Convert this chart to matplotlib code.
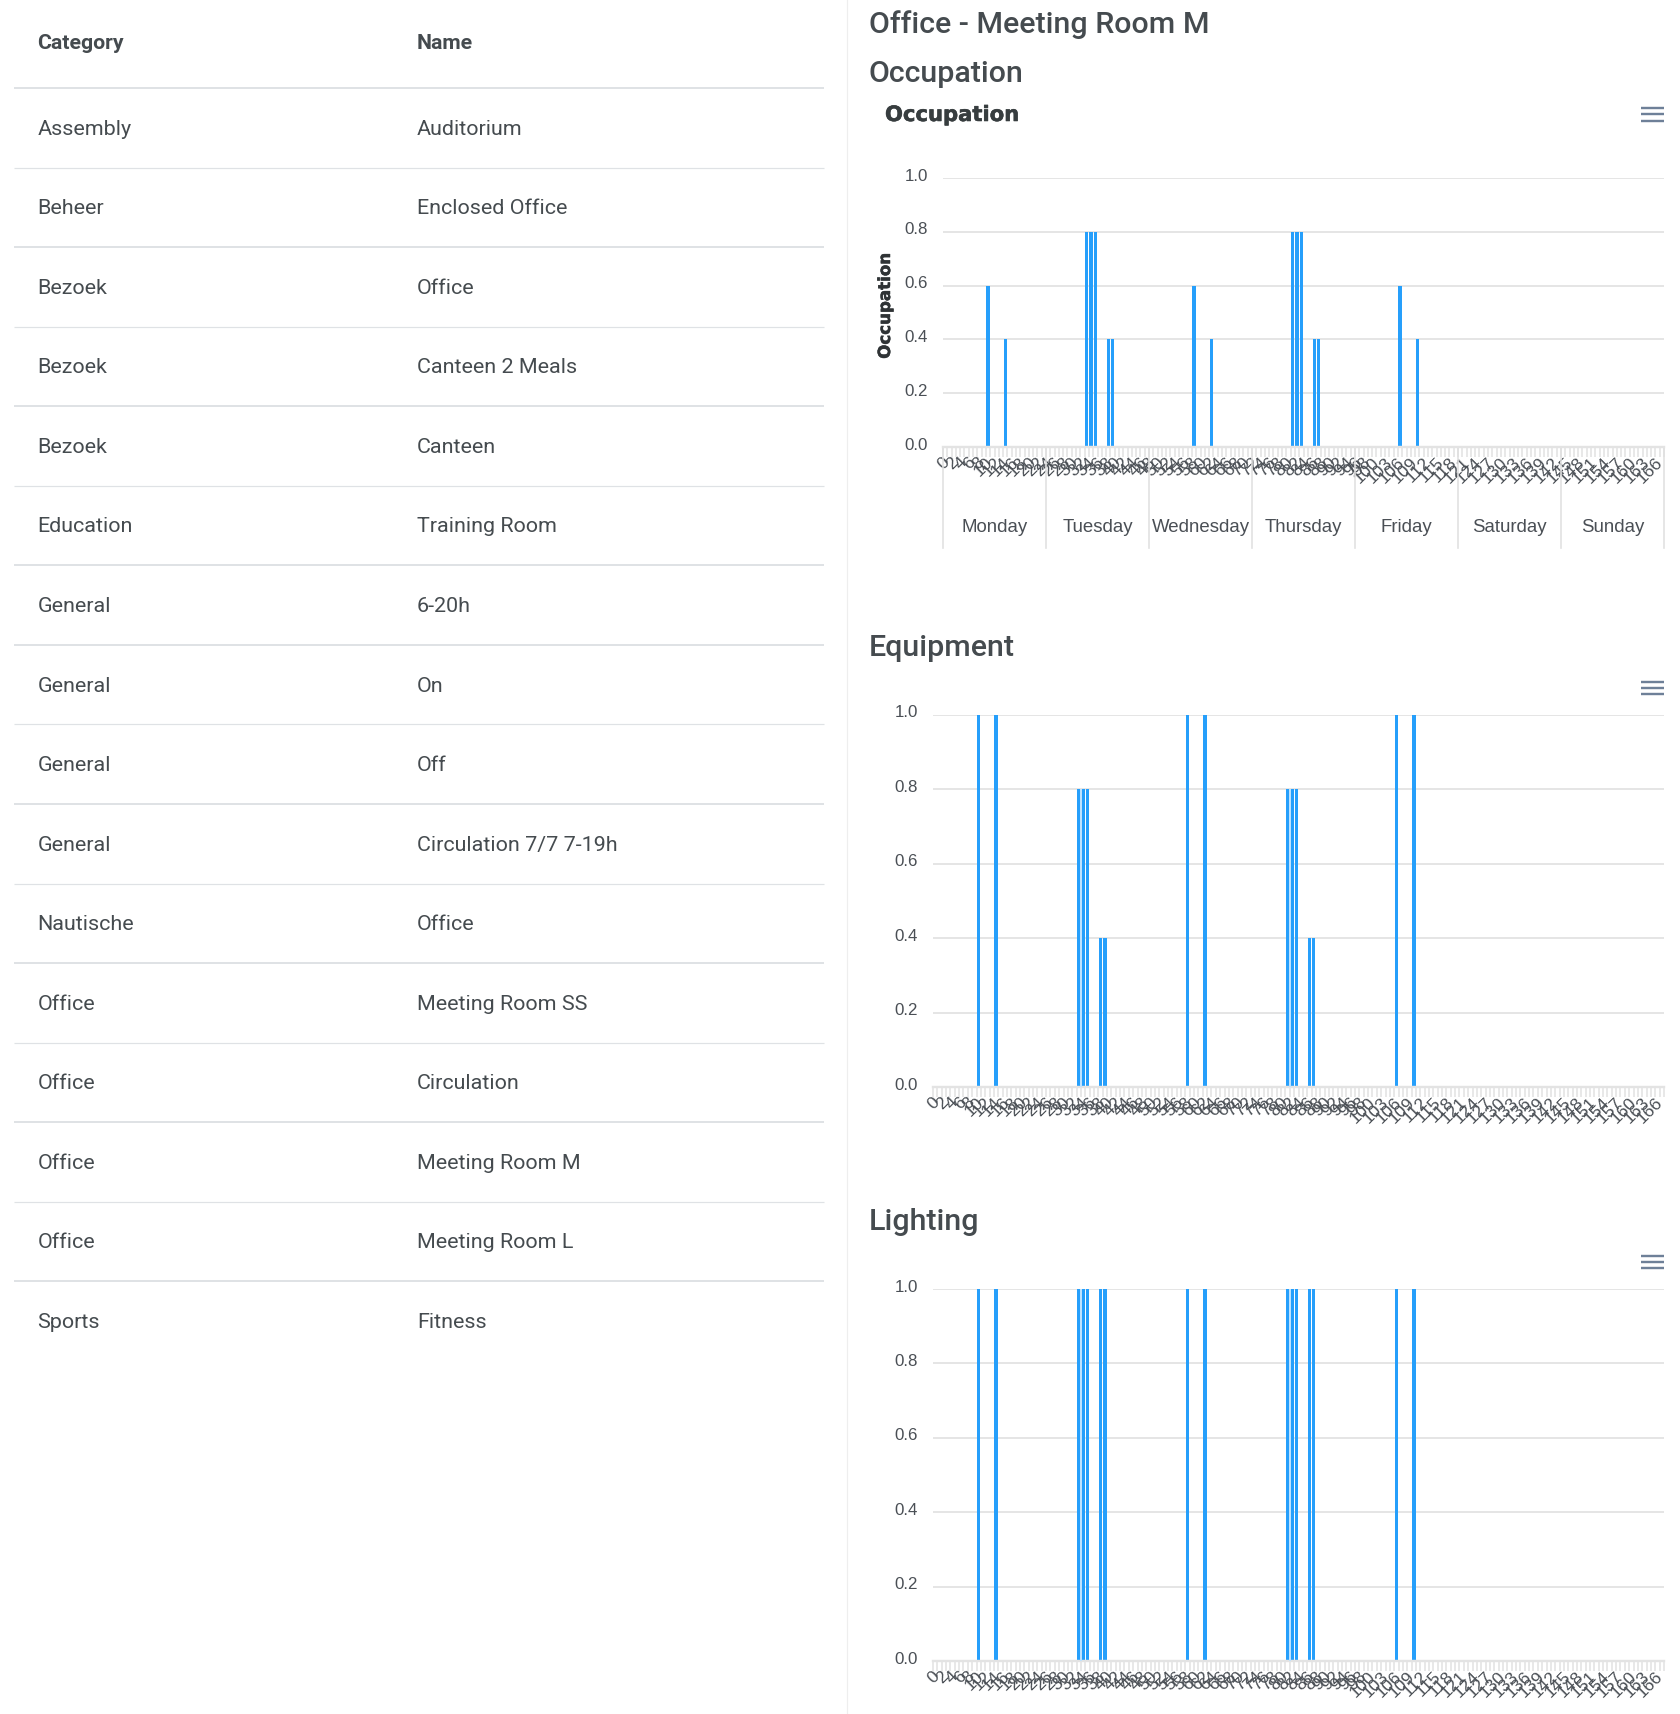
import matplotlib
matplotlib.use("Agg")
import matplotlib.pyplot as plt
import matplotlib.patheffects as pe
from matplotlib.transforms import ScaledTranslation

W, H, DPI = 1680, 1714, 100
PT = 72 / DPI

table_headers = ["Category", "Name"]
table_categories = ["Assembly", "Beheer", "Bezoek", "Bezoek", "Bezoek", "Education", "General", "General",
                    "General", "General", "Nautische", "Office", "Office", "Office", "Office", "Sports"]
table_names = ["Auditorium", "Enclosed Office", "Office", "Canteen 2 Meals", "Canteen", "Training Room",
               "6-20h", "On", "Off", "Circulation 7/7 7-19h", "Office", "Meeting Room SS", "Circulation",
               "Meeting Room M", "Meeting Room L", "Fitness"]

page_title = "Office - Meeting Room M"
days = ["Monday", "Tuesday", "Wednesday", "Thursday", "Friday", "Saturday", "Sunday"]

hours = [10, 14, 33, 34, 35, 38, 39, 58, 62, 81, 82, 83, 86, 87, 106, 110]
occupation = [0.6, 0.4, 0.8, 0.8, 0.8, 0.4, 0.4, 0.6, 0.4, 0.8, 0.8, 0.8, 0.4, 0.4, 0.6, 0.4]
equipment = [1.0, 1.0, 0.8, 0.8, 0.8, 0.4, 0.4, 1.0, 1.0, 0.8, 0.8, 0.8, 0.4, 0.4, 1.0, 1.0]
lighting = [1.0] * 16

y_ticks = [0.0, 0.2, 0.4, 0.6, 0.8, 1.0]
x_labels = list(range(0, 100, 2)) + list(range(100, 167, 3))

ROBOTO = ["Roboto", "DejaVu Sans"]
ARIAL = ["Liberation Sans", "DejaVu Sans"]
TEXT = "#454b4f"
LABEL = "#4a4f55"
GRID = "#e3e3e3"
BAR = "#269ffb"
PALE = "#bfe2fe"
ICON = "#6e8098"
thick_rules = (0, 2, 4, 6, 7, 9, 11, 13, 15)

fig = plt.figure(figsize=(W / DPI, H / DPI), dpi=DPI, facecolor="white")

page = fig.add_axes([0, 0, 1, 1], zorder=0)
page.set_xlim(0, W)
page.set_ylim(H, 0)
page.axis("off")

# table
page.plot([846.5, 846.5], [0, H], color="#eeeeee", lw=1.2 * PT)
page.text(37.5, 43, table_headers[0], family=ROBOTO, weight="bold", size=15.3, color=TEXT, va="center")
page.text(417, 43, table_headers[1], family=ROBOTO, weight="bold", size=15.3, color=TEXT, va="center")
row_h = 79.55
for i in range(16):
    y = 88 + row_h * i
    page.plot([14, 824], [y, y], color="#dfe2e5", lw=(2 if i in thick_rules else 1.2) * PT, solid_capstyle="butt")
    page.text(37.5, y + row_h / 2 + 1.4, table_categories[i], family=ROBOTO, size=15.45, color=TEXT, va="center")
    page.text(417, y + row_h / 2 + 1.4, table_names[i], family=ROBOTO, size=15.45, color=TEXT, va="center")

# headings
heading_kw = dict(family=ROBOTO, weight="medium", size=21.9, color=TEXT, va="center")
page.text(869, 25, page_title, **heading_kw)
page.text(869, 74, "Occupation", **heading_kw)
page.text(869, 648, "Equipment", **heading_kw)
page.text(869, 1222, "Lighting", **heading_kw)


def icon(cy):
    for dy in (-6.3, 0, 6.3):
        page.plot([1641, 1664], [cy + dy, cy + dy], color=ICON, lw=2.4 * PT, solid_capstyle="butt")


def chart(x0, top, bottom, values, label_x, pale_hours=()):
    ax = fig.add_axes([x0 / W, 1 - bottom / H, (1664 - x0) / W, (bottom - top) / H], zorder=1)
    ax.patch.set_alpha(0)
    ax.set_xlim(0, 168)
    ax.set_ylim(0, 1)
    for s in ("top", "right", "left"):
        ax.spines[s].set_visible(False)
    ax.spines["bottom"].set_color(GRID)
    ax.spines["bottom"].set_linewidth(2.4 * PT)
    ax.set_axisbelow(True)
    ax.grid(axis="y", color=GRID, lw=1.8 * PT)
    ax.set_yticks(y_ticks)
    ax.set_yticklabels([f"{v:.1f}" for v in y_ticks])
    ax.tick_params(axis="y", length=0, pad=(x0 - label_x) * PT, labelsize=12.2, labelcolor=LABEL)
    for lab in ax.get_yticklabels():
        lab.set_fontfamily(ARIAL)
        lab.set_transform(lab.get_transform() + ScaledTranslation(0, 3.5 / DPI, fig.dpi_scale_trans))
    ax.set_xticks([h + 0.5 for h in x_labels])
    ax.set_xticklabels([str(h) for h in x_labels])
    ax.set_xticks(range(0, 169), minor=True)
    ax.tick_params(axis="x", which="minor", length=10 * PT, width=1.8 * PT, color="#e6e6e6")
    ax.tick_params(axis="x", which="major", length=0, pad=8 * PT, labelsize=12.6, labelcolor=LABEL)
    for lab in ax.get_xticklabels():
        lab.set_fontfamily(ARIAL)
        lab.set_rotation(45)
        lab.set_rotation_mode("anchor")
        lab.set_ha("right")
        lab.set_va("top")
        lab.set_transform(lab.get_transform() + ScaledTranslation(-3 / DPI, 0, fig.dpi_scale_trans))
    ax.bar([h + 0.5 for h in hours], values, width=0.8, color=BAR, lw=0, zorder=2)
    for h, v in zip(hours, values):
        if h in pale_hours:
            ax.bar(h + 1.0, v, width=0.38, color=PALE, lw=0, zorder=3)
    return ax


ax1 = chart(943, 178, 447, occupation, 928)
ax2 = chart(933, 715, 1087, equipment, 918, pale_hours=(33, 81))
ax3 = chart(933, 1289, 1661, lighting, 918, pale_hours=(33, 81))

# day band of the first chart
trans = ax1.get_xaxis_transform()
span = 269
for d in range(8):
    ax1.plot([d * 24, d * 24], [0, -101 / span], transform=trans, color="#e0e0e0", lw=1.6 * PT, clip_on=False)
for d, name in enumerate(days):
    ax1.text(d * 24 + 12, -80.5 / span, name, transform=trans, family=ARIAL, size=13.4, color=LABEL,
             ha="center", va="center")

# chart title and axis title of the first chart
stroke = [pe.withStroke(linewidth=0.4, foreground="#373d3f")]
page.text(885, 115, "Occupation", family="DejaVu Sans", weight="bold", size=15.2, color="#373d3f", va="center",
          path_effects=stroke)
page.text(885, 306, "Occupation", family="DejaVu Sans", weight="bold", size=12.0, color="#2f3335",
          rotation=90, ha="center", va="center", path_effects=stroke)

icon(114.3)
icon(688)
icon(1262)

fig.savefig("out.png", dpi=DPI)
